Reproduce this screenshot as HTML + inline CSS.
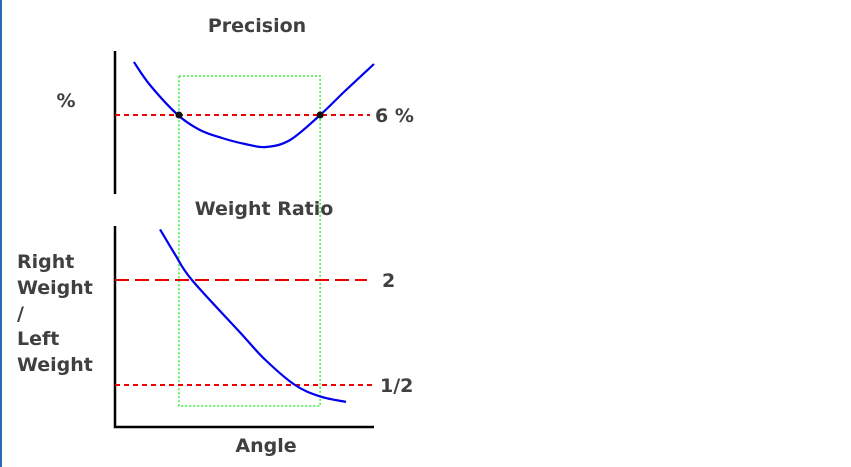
<!DOCTYPE html>
<html><head><meta charset="utf-8"><style>
html,body{margin:0;padding:0;background:#fff;}
svg{display:block;}
text{font-family:"DejaVu Sans","Liberation Sans",sans-serif;font-weight:bold;fill:#404040;font-size:19px;}
</style></head><body>
<svg id="chart" width="851" height="467" viewBox="0 0 851 467">
<rect x="0" y="0" width="2" height="467" fill="#2a6ab0"/>
<text x="257" y="32" text-anchor="middle">Precision</text>
<text x="66" y="107" text-anchor="middle">%</text>
<text x="264" y="215" text-anchor="middle">Weight Ratio</text>
<g>
<text x="17" y="268">Right</text><text x="17" y="294">Weight</text><text x="17" y="320">/</text><text x="17" y="345">Left</text><text x="17" y="371">Weight</text>
</g>
<text x="266" y="452" text-anchor="middle">Angle</text>
<g id="marks"></g>
</svg>
<script>
const angles1 = [0.73, 1.35, 2.43, 3.28, 4.13, 5.02, 5.83, 6.76, 7.92, 8.88, 10];
const precision = [11.3, 9, 6, 4.5, 3.7, 3.1, 2.8, 3.5, 6, 8.4, 11.1];
const angles2 = [1.74, 2.32, 2.97, 4.83, 5.79, 6.95, 7.92, 8.92];
const ratio = [3.9, 2.8, 2, 1, 0.7, 0.5, 0.43, 0.4];
const precisionThreshold = 6;
const ratioHigh = 2;
const ratioLow = 0.5;
const rangeStart = 2.47;
const rangeEnd = 7.92;
const thresholdLabels = ["6 %", "2", "1/2"];

const xS = a => 115 + a * 25.9;
const yP = p => 115 - (p - 6) * 10;
const yR = r => 332.5 - Math.log2(r) * 52.5;
const NS = "http://www.w3.org/2000/svg";
const g = document.getElementById("marks");
function mk(tag, attrs) { const e = document.createElementNS(NS, tag); for (const k in attrs) e.setAttribute(k, attrs[k]); g.appendChild(e); return e; }
function smooth(pts) {
  let d = "M" + pts[0][0] + "," + pts[0][1];
  for (let i = 0; i < pts.length - 1; i++) {
    const p0 = pts[Math.max(0, i - 1)], p1 = pts[i], p2 = pts[i + 1], p3 = pts[Math.min(pts.length - 1, i + 2)];
    d += " C" + (p1[0] + (p2[0] - p0[0]) / 6) + "," + (p1[1] + (p2[1] - p0[1]) / 6) + " " + (p2[0] - (p3[0] - p1[0]) / 6) + "," + (p2[1] - (p3[1] - p1[1]) / 6) + " " + p2[0] + "," + p2[1];
  }
  return d;
}
// green range box
let e = mk("rect", {x: xS(rangeStart), y: 76, width: xS(rangeEnd) - xS(rangeStart), height: 330, fill: "none", stroke: "#33ee33", "stroke-width": 1.5, "stroke-dasharray": "2,2"});


// axes
e = mk("line", {x1: 115, y1: 51, x2: 115, y2: 194, stroke: "#000", "stroke-width": 2.5});


e = mk("path", {d: "M115,226 V427 H374", fill: "none", stroke: "#000", "stroke-width": 2.5});


// threshold lines
const yt = yP(precisionThreshold);
e = mk("line", {x1: 115, y1: yt, x2: 370, y2: yt, stroke: "#ee0000", "stroke-width": 2, "stroke-dasharray": "5,4"});


e = mk("line", {x1: 115, y1: yR(ratioHigh), x2: 367, y2: yR(ratioHigh), stroke: "#ee0000", "stroke-width": 2, "stroke-dasharray": "14,6"});


e = mk("line", {x1: 115, y1: yR(ratioLow), x2: 372, y2: yR(ratioLow), stroke: "#ee0000", "stroke-width": 2, "stroke-dasharray": "5,4"});


// labels
const labYs = [yt, yR(ratioHigh), yR(ratioLow)];
const labXs = [375, 382, 380];
const labNames = ['precision-threshold-label', 'ratio-high-label', 'ratio-low-label'];
for (let i = 0; i < 3; i++) {
  const t = mk("text", {x: labXs[i], y: labYs[i] + 7});
  t.textContent = thresholdLabels[i];
  
  
}
// curves
e = mk("path", {d: smooth(angles1.map((a, i) => [xS(a), yP(precision[i])])), fill: "none", stroke: "#0000ee", "stroke-width": 2.2});


e = mk("path", {d: smooth(angles2.map((a, i) => [xS(a), yR(ratio[i])])), fill: "none", stroke: "#0000ee", "stroke-width": 2.2});


// intersection dots
[rangeStart, rangeEnd].forEach(a => {
  const c = mk("circle", {cx: xS(a), cy: yt, r: 3.5, fill: "#111"});
  
  
});
</script>
</body></html>
